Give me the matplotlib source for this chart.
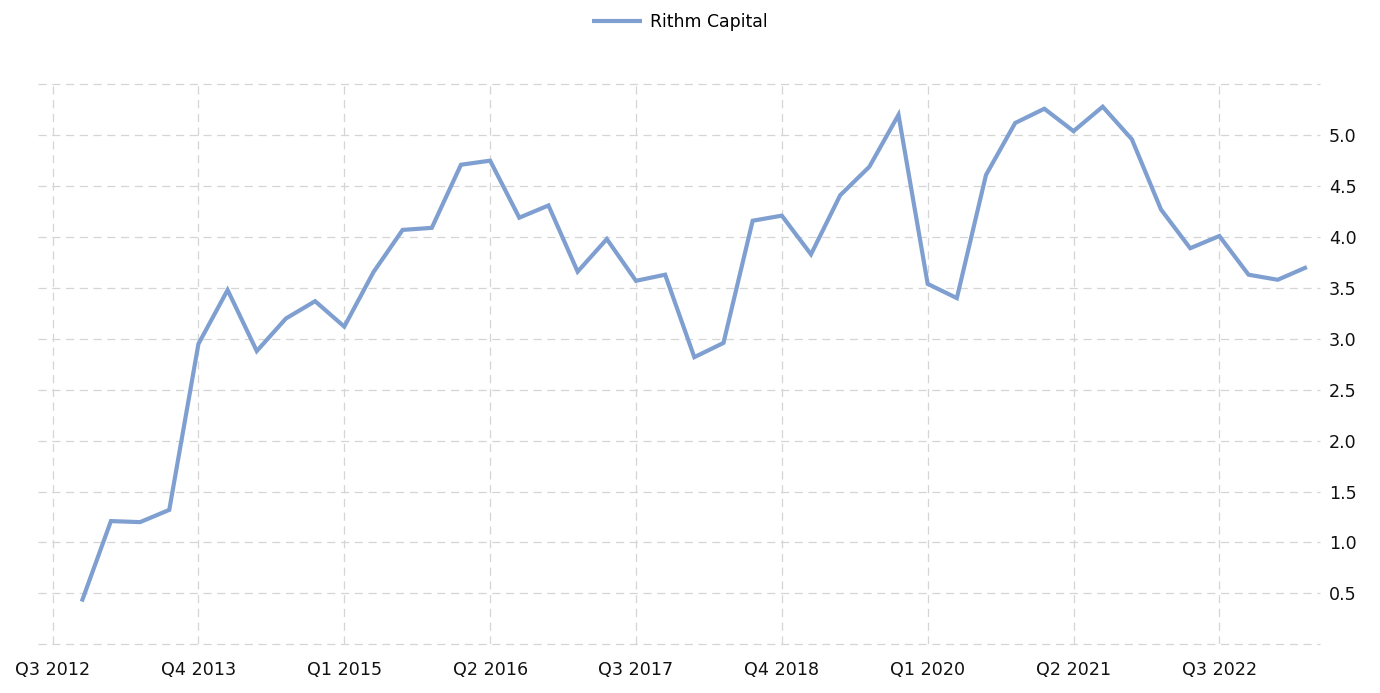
import matplotlib
matplotlib.use("Agg")
import matplotlib.pyplot as plt

quarters = ["Q3 2012", "Q4 2012", "Q1 2013", "Q2 2013", "Q3 2013", "Q4 2013",
            "Q1 2014", "Q2 2014", "Q3 2014", "Q4 2014", "Q1 2015", "Q2 2015",
            "Q3 2015", "Q4 2015", "Q1 2016", "Q2 2016", "Q3 2016", "Q4 2016",
            "Q1 2017", "Q2 2017", "Q3 2017", "Q4 2017", "Q1 2018", "Q2 2018",
            "Q3 2018", "Q4 2018", "Q1 2019", "Q2 2019", "Q3 2019", "Q4 2019",
            "Q1 2020", "Q2 2020", "Q3 2020", "Q4 2020", "Q1 2021", "Q2 2021",
            "Q3 2021", "Q4 2021", "Q1 2022", "Q2 2022", "Q3 2022", "Q4 2022",
            "Q1 2023", "Q2 2023"]
# value per quarter (None = no data)
values = [None, 0.42, 1.21, 1.20, 1.32, 2.95,
          3.48, 2.88, 3.20, 3.37, 3.12, 3.655,
          4.07, 4.09, 4.71, 4.75, 4.19, 4.31,
          3.66, 3.98, 3.57, 3.63, 2.82, 2.96,
          4.16, 4.21, 3.83, 4.41, 4.69, 5.20,
          3.54, 3.40, 4.61, 5.12, 5.26, 5.04,
          5.28, 4.96, 4.27, 3.89, 4.01, 3.63,
          3.58, 3.705]
series_name = "Rithm Capital"
xtick_labels = ["Q3 2012", "Q4 2013", "Q1 2015", "Q2 2016", "Q3 2017",
                "Q4 2018", "Q1 2020", "Q2 2021", "Q3 2022"]
ytick_values = [0.0, 0.5, 1.0, 1.5, 2.0, 2.5, 3.0, 3.5, 4.0, 4.5, 5.0, 5.5]

W, H = 1380, 693
fig = plt.figure(figsize=(W / 100, H / 100), dpi=100)
ax = fig.add_axes([38 / W, 1 - 644.3 / H, (1320 - 38) / W, (644.3 - 84.3) / H])

xs = [i for i, v in enumerate(values) if v is not None]
ys = [v for v in values if v is not None]
line, = ax.plot(xs, ys, color="#7f9fd1", lw=3.0, solid_joinstyle="miter",
                solid_capstyle="butt", label=series_name, zorder=3)

ax.set_xlim(-0.5, 43.45)
ax.set_ylim(0, 5.5)

xt = [quarters.index(q) for q in xtick_labels]
ax.set_xticks(xt)
ax.set_xticklabels(xtick_labels)
ax.set_yticks(ytick_values)
ax.set_yticklabels(["" if (v == 0 or v == 5.5) else f"{v:.1f}" for v in ytick_values])

ax.yaxis.tick_right()
ax.tick_params(axis="both", length=0, labelsize=12.6, labelcolor="#111111")
ax.tick_params(axis="x", pad=12)
ax.tick_params(axis="y", pad=6.5)
for s in ax.spines.values():
    s.set_visible(False)

ax.grid(True, color="#d5d5d5", lw=0.9, linestyle=(0, (6.5, 4.5)), zorder=0)
ax.set_axisbelow(True)
for gl in ax.get_ygridlines():
    gl.set_clip_on(False)

fig.legend(handles=[line], loc="center", bbox_to_anchor=(680 / W, 1 - 22 / H),
           frameon=False, fontsize=12.4, handlelength=2.9, handletextpad=0.45,
           borderpad=0)

fig.savefig("out.png", dpi=100, facecolor="white")
